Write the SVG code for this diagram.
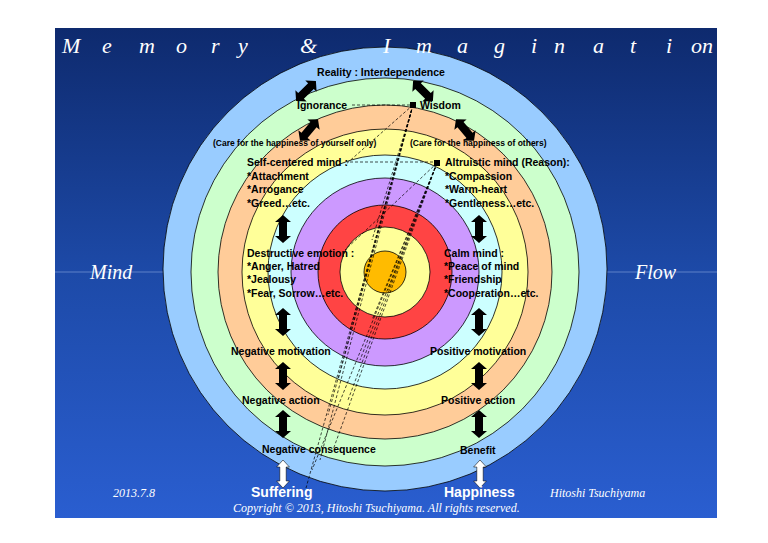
<svg xmlns="http://www.w3.org/2000/svg" width="768" height="543" viewBox="0 0 768 543">
<defs>
<linearGradient id="bg" x1="0" y1="0" x2="0" y2="1"><stop offset="0" stop-color="#0e2a6e"/><stop offset="0.5" stop-color="#1d4aa8"/><stop offset="1" stop-color="#2a5ed0"/></linearGradient>
<path id="da" d="M-8,-7 L0,-14 L8,-7 L4,-7 L4,7 L8,7 L0,14 L-8,7 L-4,7 L-4,-7 Z"/>
</defs>
<style>
.r{stroke:#000;stroke-width:0.8}
.t{font-family:"Liberation Sans",Arial,sans-serif;font-weight:bold;font-size:10.5px;fill:#000}
.s{font-size:8.5px}
.w{font-family:"Liberation Serif","Times New Roman",serif;font-style:italic;fill:#fff}
.d{stroke:#000;stroke-width:0.7;stroke-dasharray:3,2;fill:none}
.ba{fill:#000}
.wa{fill:#fff;stroke:#000;stroke-width:0.6}
</style>
<rect width="768" height="543" fill="#fff"/>
<rect x="55" y="28" width="662" height="490" fill="url(#bg)"/>
<line x1="55" y1="272" x2="717" y2="272" stroke="#8aa6dd" stroke-width="0.6"/>
<g id="rings">
<circle class="r" cx="385" cy="269" r="222" fill="#99ccff"/>
<circle class="r" cx="385" cy="272" r="194" fill="#ccffcc"/>
<circle class="r" cx="385" cy="272" r="167" fill="#ffcc99"/>
<circle class="r" cx="385" cy="272" r="143" fill="#ffff99"/>
<circle class="r" cx="385" cy="272" r="117" fill="#ccffff"/>
<circle class="r" cx="385" cy="272" r="94" fill="#cc99ff"/>
<circle class="r" cx="385" cy="272" r="67" fill="#ff4444"/>
<circle class="r" cx="385" cy="272" r="45" fill="#ffff99"/>
<circle class="r" cx="385" cy="272" r="21" fill="#ffbb00"/>
</g>
<g id="connectors">
<line class="d" x1="352" y1="105" x2="413" y2="105"/>
<line class="d" x1="350" y1="162" x2="437" y2="162"/>
<line class="d" x1="413" y1="105" x2="345" y2="165"/>
<line class="d" x1="413" y1="105" x2="306" y2="488"/>
<line class="d" x1="413" y1="105" x2="320" y2="460"/>
<line class="d" x1="413" y1="105" x2="328" y2="415"/>
<line class="d" x1="413" y1="105" x2="338" y2="380"/>
<line class="d" x1="413" y1="105" x2="350" y2="330"/>
<line class="d" x1="413" y1="105" x2="372" y2="240"/>
<line class="d" x1="437" y1="163" x2="312" y2="470"/>
<line class="d" x1="437" y1="163" x2="333" y2="450"/>
<line class="d" x1="437" y1="163" x2="348" y2="400"/>
<line class="d" x1="437" y1="163" x2="360" y2="360"/>
<line class="d" x1="437" y1="163" x2="372" y2="320"/>
<line class="d" x1="437" y1="163" x2="388" y2="290"/>
<line class="d" x1="437" y1="163" x2="345" y2="250"/>
<rect x="410" y="102" width="6" height="6" fill="#000"/>
<rect x="434" y="160" width="6" height="6" fill="#000"/>
<use href="#da" class="ba" transform="translate(306,91) rotate(45)"/>
<use href="#da" class="ba" transform="translate(423,91) rotate(-45)"/>
<use href="#da" class="ba" transform="translate(309,130) rotate(40)"/>
<use href="#da" class="ba" transform="translate(465,130) rotate(-40)"/>
<use href="#da" class="ba" transform="translate(283,229)"/>
<use href="#da" class="ba" transform="translate(479,229)"/>
<use href="#da" class="ba" transform="translate(283,322)"/>
<use href="#da" class="ba" transform="translate(479,322)"/>
<use href="#da" class="ba" transform="translate(283,376)"/>
<use href="#da" class="ba" transform="translate(479,376)"/>
<use href="#da" class="ba" transform="translate(283,424)"/>
<use href="#da" class="ba" transform="translate(479,424)"/>
<use href="#da" class="wa" transform="translate(283,474) scale(0.8,1)"/>
<use href="#da" class="wa" transform="translate(480,474) scale(0.8,1)"/>
</g>
<g id="labels">
<text class="t" x="381" y="76" text-anchor="middle">Reality : Interdependence</text>
<text class="t" x="297" y="109">Ignorance</text>
<text class="t" x="420" y="109">Wisdom</text>
<text class="t s" x="213" y="146">(Care for the happiness of yourself only)</text>
<text class="t s" x="410" y="146">(Care for the happiness of others)</text>
<text class="t" x="247" y="166">Self-centered mind :</text>
<text class="t" x="247" y="180">*Attachment</text>
<text class="t" x="247" y="193">*Arrogance</text>
<text class="t" x="247" y="207">*Greed…etc.</text>
<text class="t" x="445" y="166">Altruistic mind (Reason):</text>
<text class="t" x="445" y="180">*Compassion</text>
<text class="t" x="445" y="193">*Warm-heart</text>
<text class="t" x="445" y="207">*Gentleness…etc.</text>
<text class="t" x="247" y="257">Destructive emotion :</text>
<text class="t" x="247" y="270">*Anger, Hatred</text>
<text class="t" x="247" y="283">*Jealousy</text>
<text class="t" x="247" y="297">*Fear, Sorrow…etc.</text>
<text class="t" x="444" y="257">Calm mind :</text>
<text class="t" x="444" y="270">*Peace of mind</text>
<text class="t" x="444" y="283">*Friendship</text>
<text class="t" x="444" y="297">*Cooperation…etc.</text>
<text class="t" x="231" y="355">Negative motivation</text>
<text class="t" x="430" y="355">Positive motivation</text>
<text class="t" x="242" y="404">Negative action</text>
<text class="t" x="441" y="404">Positive action</text>
<text class="t" x="262" y="453">Negative consequence</text>
<text class="t" x="460" y="454">Benefit</text>
<text x="251" y="497" style="font-family:'Liberation Sans',Arial,sans-serif;font-weight:bold;font-size:14px;fill:#fff">Suffering</text>
<text x="444" y="497" style="font-family:'Liberation Sans',Arial,sans-serif;font-weight:bold;font-size:14px;fill:#fff">Happiness</text>
<text class="w" x="62 102 139 176 211 238 300 383 416 457 494 531 554 593 630 666 691" y="53" font-size="22">Memory&amp;Imagination</text>
<text class="w" x="90" y="279" font-size="20">Mind</text>
<text class="w" x="635" y="279" font-size="20">Flow</text>
<text class="w" x="113" y="497" font-size="12">2013.7.8</text>
<text class="w" x="550" y="497" font-size="12">Hitoshi Tsuchiyama</text>
<text class="w" x="233" y="512" font-size="12">Copyright © 2013, Hitoshi Tsuchiyama. All rights reserved.</text>
</g>
</svg>
